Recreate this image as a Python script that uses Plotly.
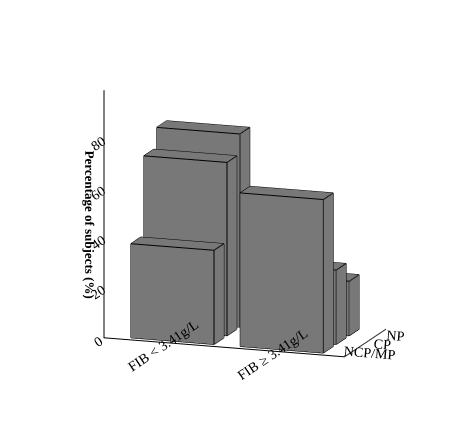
import plotly.graph_objects as go

fib_groups = ['FIB < 3.41g/L', 'FIB ≥ 3.41g/L']
depth_groups = ['NCP/MP', 'CP', 'NP']
# percentage of subjects [fib][depth]
pct_low = [38, 70, 78]
pct_high = [62, 30, 22]
values = [pct_low, pct_high]

fig = go.Figure()
w = 0.38
for i, row in enumerate(values):
    for j, v in enumerate(row):
        x0, x1 = i - w, i + w
        y0, y1 = j - w, j + w
        xs = [x0, x1, x1, x0, x0, x1, x1, x0]
        ys = [y0, y0, y1, y1, y0, y0, y1, y1]
        zs = [0, 0, 0, 0, v, v, v, v]
        fig.add_trace(go.Mesh3d(
            x=xs, y=ys, z=zs,
            i=[0, 0, 4, 4, 0, 0, 1, 1, 2, 2, 3, 3],
            j=[1, 2, 5, 6, 1, 5, 2, 6, 3, 7, 0, 4],
            k=[2, 3, 6, 7, 5, 4, 6, 5, 7, 6, 4, 7],
            color='#c8c8c8', flatshading=True,
            lighting=dict(ambient=0.6, diffuse=0.6, specular=0.05),
            lightposition=dict(x=-1000, y=-2000, z=3000),
            showscale=False, hoverinfo='skip'))
        ex, ey, ez = [], [], []
        for a, b in [(0, 1), (1, 2), (2, 3), (3, 0), (4, 5), (5, 6), (6, 7), (7, 4),
                     (0, 4), (1, 5), (2, 6), (3, 7)]:
            ex += [xs[a], xs[b], None]
            ey += [ys[a], ys[b], None]
            ez += [zs[a], zs[b], None]
        fig.add_trace(go.Scatter3d(x=ex, y=ey, z=ez, mode='lines',
                                   line=dict(color='black', width=2),
                                   showlegend=False, hoverinfo='skip'))

axis_common = dict(showbackground=False, showgrid=False, zeroline=False,
                   showline=True, linecolor='black', linewidth=2,
                   tickfont=dict(family='Liberation Serif', size=13, color='black'),
                   title='')
fig.update_layout(
    width=474, height=424, showlegend=False,
    margin=dict(l=0, r=0, t=0, b=0),
    paper_bgcolor='white',
    font=dict(family='Liberation Serif', color='black'),
    scene=dict(
        xaxis=dict(axis_common, tickvals=[0, 1], ticktext=fib_groups, range=[-0.6, 1.6]),
        yaxis=dict(axis_common, tickvals=[0, 1, 2], ticktext=depth_groups, range=[-0.6, 2.6]),
        zaxis=dict(axis_common, tickvals=[0, 20, 40, 60, 80], range=[0, 100],
                   title=dict(text='<b>Percentage of subjects (%)</b>',
                              font=dict(family='Liberation Serif', size=13))),
        aspectmode='manual', aspectratio=dict(x=1.2, y=0.6, z=1.2),
        camera=dict(eye=dict(x=0.55, y=-1.6, z=0.35), center=dict(x=0, y=0, z=-0.05),
                    projection=dict(type='orthographic')),
    ))
fig.write_html('out.html')
